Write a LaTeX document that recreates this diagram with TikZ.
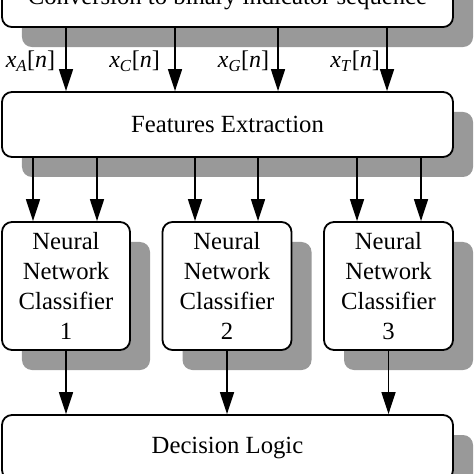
\documentclass[tikz,border=0pt]{standalone}
\usepackage{fontspec}
\setmainfont{Liberation Serif}
\usetikzlibrary{arrows.meta,shadows}
\definecolor{shadowgray}{gray}{0.6}
\begin{document}
\begin{tikzpicture}[x=1bp,y=-1bp,
  box/.style={draw=black, line width=1.8bp, rounded corners=10bp, fill=white,
    font=\fontsize{24.7bp}{30bp}\selectfont, align=center, inner sep=0pt,
    drop shadow={shadow xshift=20bp, shadow yshift=-20bp, fill=shadowgray, opacity=1}},
  arr/.style={line width=1.5bp, -{Triangle[length=22bp,width=14bp]}},
  lab/.style={font=\fontsize{24bp}{28bp}\selectfont, inner sep=0pt, anchor=base}]
\useasboundingbox[fill=white] (0,0) rectangle (474,474);

\node[box, minimum width=451bp, minimum height=57.6bp] (conv) at (227.5,-1.75)
  {Conversion to binary indicator sequence};
\node[box, minimum width=451bp, minimum height=65bp] (feat) at (227.5,124.5)
  {Features Extraction};
\node[box, minimum width=128bp, minimum height=128bp] (nn1) at (66,286)
  {Neural\\Network\\Classifier\\1};
\node[box, minimum width=129bp, minimum height=128bp] (nn2) at (227,286)
  {Neural\\Network\\Classifier\\2};
\node[box, minimum width=129bp, minimum height=128bp] (nn3) at (388.5,286)
  {Neural\\Network\\Classifier\\3};
\node[box, minimum width=451bp, minimum height=65bp] (dec) at (227.5,447.5)
  {Decision Logic};

% x positions of signal arrows
\coordinate (xa) at (66,0);
\coordinate (xc) at (175,0);
\coordinate (xg) at (278,0);
\coordinate (xt) at (387,0);
\coordinate (f1) at (33,0);
\coordinate (f2) at (97,0);
\coordinate (f3) at (195,0);
\coordinate (f4) at (258,0);
\coordinate (f5) at (357,0);
\coordinate (f6) at (421,0);

\draw[arr] (xa |- conv.south) -- (xa |- feat.north);
\draw[arr] (xc |- conv.south) -- (xc |- feat.north);
\draw[arr] (xg |- conv.south) -- (xg |- feat.north);
\draw[arr] (xt |- conv.south) -- (xt |- feat.north);

\node[lab] (la) at (30.5,68) {\textit{x}\textsubscript{\textit{A}}[\textit{n}]};
\node[lab] (lc) at (134.5,68) {\textit{x}\textsubscript{\textit{C}}[\textit{n}]};
\node[lab] (lg) at (243.5,68) {\textit{x}\textsubscript{\textit{G}}[\textit{n}]};
\node[lab] (lt) at (355,68) {\textit{x}\textsubscript{\textit{T}}[\textit{n}]};

\draw[arr] (f1 |- feat.south) -- (f1 |- nn1.north);
\draw[arr] (f2 |- feat.south) -- (f2 |- nn1.north);
\draw[arr] (f3 |- feat.south) -- (f3 |- nn2.north);
\draw[arr] (f4 |- feat.south) -- (f4 |- nn2.north);
\draw[arr] (f5 |- feat.south) -- (f5 |- nn3.north);
\draw[arr] (f6 |- feat.south) -- (f6 |- nn3.north);

\draw[arr] (nn1.south) -- (nn1.south |- dec.north);
\draw[arr] (nn2.south) -- (nn2.south |- dec.north);
\draw[arr] (nn3.south) -- (nn3.south |- dec.north);
\end{tikzpicture}
\end{document}
